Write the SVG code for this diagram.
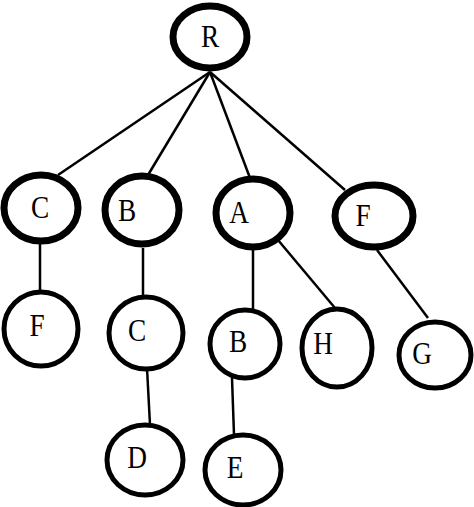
<svg xmlns="http://www.w3.org/2000/svg" width="474" height="507" viewBox="0 0 474 507">
<style>
.n{fill:#fff;stroke:#000}
.t1{stroke-width:7}
.t2{stroke-width:5}
.lbl{font-family:"Liberation Serif",serif;font-size:31px;text-anchor:middle;fill:#000}
.e{stroke:#000;stroke-width:2.5;fill:none}
</style>
<rect width="474" height="507" fill="#fff"/>
<g id="connectors">
<line class="e" x1="210" y1="72" x2="58" y2="175"/>
<line class="e" x1="210" y1="72" x2="148" y2="175"/>
<line class="e" x1="210" y1="72" x2="250" y2="178"/>
<line class="e" x1="210" y1="72" x2="345" y2="190"/>
<line class="e" x1="40" y1="244" x2="40" y2="291"/>
<line class="e" x1="143" y1="248" x2="143" y2="300"/>
<line class="e" x1="147" y1="368" x2="150" y2="425"/>
<line class="e" x1="253" y1="250" x2="253" y2="309"/>
<line class="e" x1="278" y1="240" x2="335" y2="308"/>
<line class="e" x1="377" y1="250" x2="428" y2="318"/>
<line class="e" x1="232" y1="378" x2="234" y2="435"/>
</g>
<g id="R"><ellipse class="n t1" cx="210" cy="37" rx="37" ry="31"/><text class="lbl" transform="translate(210,47) scale(0.88,1)">R</text></g>
<g id="C1"><ellipse class="n t1" cx="41" cy="208" rx="37" ry="33"/><text class="lbl" transform="translate(40,218) scale(0.88,1)">C</text></g>
<g id="B1"><ellipse class="n t1" cx="142" cy="210" rx="37" ry="34"/><text class="lbl" transform="translate(127,221) scale(0.88,1)">B</text></g>
<g id="A1"><ellipse class="n t1" cx="253" cy="213" rx="37" ry="34"/><text class="lbl" transform="translate(239,223) scale(0.88,1)">A</text></g>
<g id="F1"><ellipse class="n t1" cx="374" cy="216" rx="39" ry="31"/><text class="lbl" transform="translate(363,226) scale(0.88,1)">F</text></g>
<g id="F2"><ellipse class="n t2" cx="41" cy="329" rx="37" ry="37"/><text class="lbl" transform="translate(37,336) scale(0.88,1)">F</text></g>
<g id="C2"><ellipse class="n t2" cx="146" cy="333" rx="37" ry="36"/><text class="lbl" transform="translate(137,341) scale(0.88,1)">C</text></g>
<g id="B2"><ellipse class="n t2" cx="245" cy="344" rx="35" ry="34"/><text class="lbl" transform="translate(238,352) scale(0.88,1)">B</text></g>
<g id="H"><ellipse class="n t2" cx="337" cy="348" rx="35" ry="39"/><text class="lbl" transform="translate(323,354) scale(0.88,1)">H</text></g>
<g id="G"><ellipse class="n t2" cx="435" cy="355" rx="36" ry="33"/><text class="lbl" transform="translate(422,364) scale(0.88,1)">G</text></g>
<g id="D"><ellipse class="n t2" cx="145" cy="460" rx="38" ry="35"/><text class="lbl" transform="translate(137,468) scale(0.88,1)">D</text></g>
<g id="E"><ellipse class="n t2" cx="243" cy="470" rx="38" ry="35"/><text class="lbl" transform="translate(235,478) scale(0.88,1)">E</text></g>
</svg>
